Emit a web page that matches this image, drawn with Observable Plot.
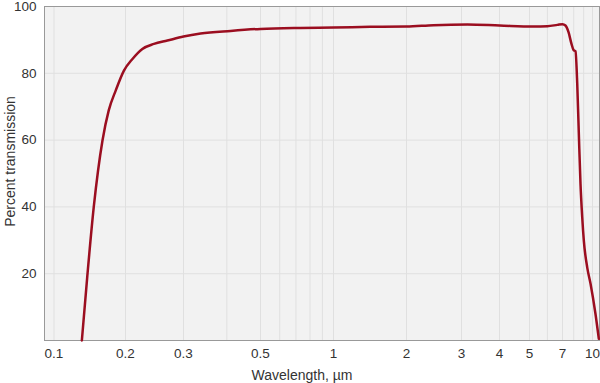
<!DOCTYPE html>
<html><head><meta charset="utf-8">
<script src="https://cdn.jsdelivr.net/npm/d3@7"></script>
<script src="https://cdn.jsdelivr.net/npm/@observablehq/plot@0.6"></script>
<style>body{margin:0;background:#fff} #chart svg{display:block}</style>
</head><body><div id="chart"></div>
<script>
const wavelength = [0.131, 0.138, 0.147, 0.160, 0.170, 0.182, 0.197, 0.210, 0.225, 0.244, 0.268, 0.300, 0.336, 0.41, 0.5, 0.73, 1.0, 1.42, 2.0, 2.44, 3.14, 4.0, 5.2, 6.0, 6.65, 7.0, 7.25, 7.52, 7.79, 7.98, 8.17, 8.34, 8.50, 8.67, 8.85, 9.02, 9.39, 9.77, 10.33, 10.72];
const transmission = [0, 19.0, 39.9, 59.9, 68.9, 74.9, 80.8, 84.3, 87.3, 88.8, 89.8, 91.0, 91.9, 92.7, 93.3, 93.6, 93.7, 93.9, 94.0, 94.4, 94.6, 94.3, 94.0, 94.1, 94.5, 94.7, 94.3, 92.3, 88.8, 87.0, 86.6, 76.9, 61.9, 46.9, 36.9, 29.9, 21.9, 17.0, 8.0, 0.5];
const xTicks = [0.1, 0.2, 0.3, 0.5, 1, 2, 3, 4, 5, 7, 10];
const xGrid = [0.1, 0.2, 0.3, 0.4, 0.5, 0.6, 0.7, 0.8, 0.9, 1, 2, 3, 4, 5, 6, 7, 8, 9, 10];
const yTicks = [20, 40, 60, 80, 100];
const yGrid = [20, 40, 60, 80];

const data = wavelength.map((w, i) => ({w, t: transmission[i]}));

const plot = Plot.plot({
  width: 600,
  height: 383,
  marginLeft: 44,
  marginRight: 1,
  marginTop: 6,
  marginBottom: 43,
  style: {fontFamily: "'Liberation Sans', Arial, sans-serif", fontSize: "13.5px", color: "#333", background: "#fff"},
  x: {
    type: "log",
    domain: [0.09, 0.1, 0.2, 0.3, 0.5, 1, 2, 3, 4, 5, 7, 10, 10.8],
    range: [44, 53.5, 125, 183, 260, 333, 406, 461, 499, 529, 562, 592, 599]
  },
  y: {domain: [0, 100]},
  marks: [
    Plot.frame({fill: "#f2f2f2"}),
    Plot.gridX(xGrid, {stroke: "#e0e0e0", strokeOpacity: 1}),
    Plot.gridY(yGrid, {stroke: "#e0e0e0", strokeOpacity: 1}),
    Plot.axisX(xTicks, {tickSize: 0, tickPadding: 8, text: d => String(d), label: null}),
    Plot.axisY(yTicks, {tickSize: 0, tickPadding: 8, text: d => String(d), label: null}),
    Plot.frame({stroke: "#999"}),
    Plot.line(data, {x: "w", y: "t", stroke: "#9b0e20", strokeWidth: 2.5, curve: "monotone-x"}),
    Plot.text(["Wavelength, µm"], {frameAnchor: "bottom", lineAnchor: "middle", textAnchor: "middle", dy: 35, dx: -20, fontSize: 14}),
    Plot.text(["Percent transmission"], {frameAnchor: "left", textAnchor: "middle", lineAnchor: "middle", dx: -34, dy: -12, rotate: -90, fontSize: 14})
  ]
});
document.getElementById("chart").appendChild(plot);
</script>
</body></html>
